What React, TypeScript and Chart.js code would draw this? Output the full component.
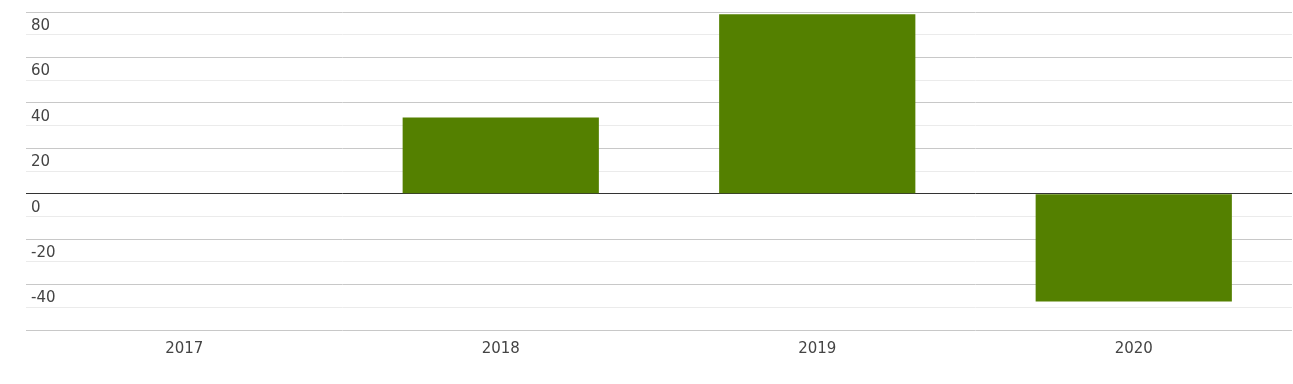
import React, { useEffect, useRef } from "react";
import { Chart, registerables } from "chart.js";

Chart.register(...registerables);

const categories = ["2017", "2018", "2019", "2020"];
const values = [0, 33.5, 79, -47.4];
const yMin = -60;
const yMax = 80;
const yStep = 10;

export default function App() {
  const ref = useRef<HTMLCanvasElement | null>(null);

  useEffect(() => {
    if (!ref.current) return;
    const chart = new Chart(ref.current, {
      type: "bar",
      data: {
        labels: categories,
        datasets: [
          {
            data: values,
            backgroundColor: "#548000",
            borderWidth: 0,
            barPercentage: 0.62,
            categoryPercentage: 1,
          },
        ],
      },
      options: {
        animation: false,
        responsive: true,
        maintainAspectRatio: false,
        layout: { padding: { left: 26, right: 1, top: 12, bottom: 0 } },
        plugins: { legend: { display: false }, tooltip: { enabled: false } },
        scales: {
          x: {
            grid: { display: false, drawTicks: false },
            border: { display: false },
            afterFit: (scale: any) => {
              scale.height = 54;
              scale.paddingLeft = 0;
              scale.paddingRight = 0;
            },
            ticks: {
              padding: 10,
              color: "#444",
              font: { family: "DejaVu Sans", size: 15 },
              maxRotation: 0,
            },
          },
          y: {
            min: yMin,
            max: yMax,
            border: { display: false },
            afterFit: (scale: any) => {
              scale.width = 0;
              scale.paddingTop = 0;
              scale.paddingBottom = 0;
            },
            grid: {
              drawTicks: false,
              lineWidth: 1,
              color: (ctx: any) => {
                const v = ctx.tick ? ctx.tick.value : 0;
                if (v === 0) return "#333333";
                if (v % 20 === 0) return "#c8c8c8";
                return "#ebebeb";
              },
            },
            ticks: {
              stepSize: yStep,
              mirror: true,
              padding: 5,
              labelOffset: 14,
              color: "#444",
              font: { family: "DejaVu Sans", size: 15 },
              callback: (v: any) => {
                const n = Number(v);
                if (n % 20 !== 0 || n === yMin) return "";
                return String(n);
              },
            },
          },
        },
      },
    });
    return () => chart.destroy();
  }, []);

  return (
    <div style={{ position: "fixed", left: 0, top: 0, width: 1293, height: 384, background: "#fff" }}>
      <canvas ref={ref} />
    </div>
  );
}
